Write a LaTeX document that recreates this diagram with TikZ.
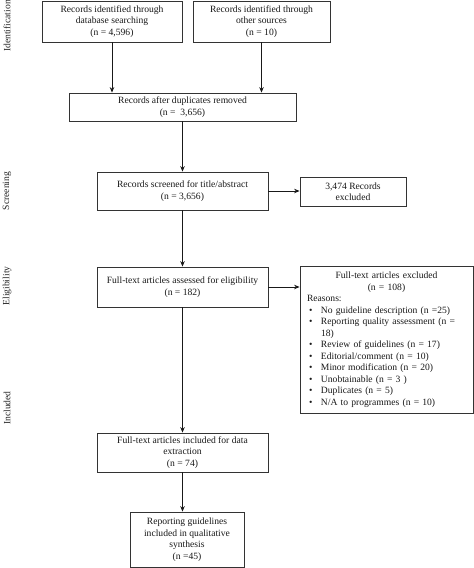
\documentclass[tikz,border=0pt]{standalone}
\usepackage{fontspec}
\setmainfont{Liberation Serif}
\usetikzlibrary{arrows.meta}
\newcommand{\bul}{\makebox[14pt][l]{\hspace*{2pt}•}}
\begin{document}
\begin{tikzpicture}[x=1pt,y=-1pt,
  font=\fontsize{9.6}{11.5}\selectfont,
  box/.style={draw=black!80, line width=0.8pt, inner sep=0pt, align=center, text=black!90},
  side/.style={rotate=90, inner sep=0pt, text=black!85},
  arr/.style={draw=black!90, line width=0.8pt, -{Stealth[length=5.5pt,width=4.5pt]}}]
\useasboundingbox (0,0) rectangle (474,568);
\fill[white] (0,0) rectangle (474,568);

\node[box, minimum width=140pt, minimum height=41pt] (db) at (112,21.5)
  {Records identified through\\database searching\\(n = 4,596)};
\node[box, minimum width=137pt, minimum height=41pt] (os) at (261.5,21.5)
  {Records identified through\\other sources\\(n = 10)};
\node[box, minimum width=227pt, minimum height=28pt] (dup) at (182.5,107)
  {Records after duplicates removed\\(n =\ \ 3,656)};
\node[box, minimum width=171pt, minimum height=38pt] (scr) at (182.5,191)
  {Records screened for title/abstract\\(n = 3,656)};
\node[box, minimum width=106pt, minimum height=29pt] (ex1) at (353,191.5)
  {3,474 Records\\excluded};
\node[box, minimum width=171pt, minimum height=40pt] (elig) at (182.5,287)
  {Full-text articles assessed for eligibility\\(n = 182)};
\node[box, minimum width=173pt, minimum height=147pt, text width=159pt,
  inner xsep=7pt, align=left] (ex2) at (386.5,339.5)
  {\centering Full-text articles excluded\\(n = 108)\par
   \raggedright Reasons:\\
   \bul No guideline description (n =25)\\
   \bul Reporting quality assessment (n =\\
   \hspace*{14pt}18)\\
   \bul Review of guidelines (n = 17)\\
   \bul Editorial/comment (n = 10)\\
   \bul Minor modification (n = 20)\\
   \bul Unobtainable (n = 3 )\\
   \bul Duplicates (n = 5)\\
   \bul N/A to programmes (n = 10)};
\node[box, minimum width=171pt, minimum height=39pt] (inc) at (182.5,452.5)
  {Full-text articles included for data\\extraction\\(n = 74)};
\node[box, minimum width=114pt, minimum height=55pt] (syn) at (187,539.5)
  {Reporting guidelines\\included in qualitative\\synthesis\\(n =45)};

\node[side] (lid) at (7,26) {Identification};
\node[side] (lscr) at (7,191) {Screening};
\node[side] (lel) at (7,286) {Eligibility};
\node[side] (lin) at (7,408) {Included};

\draw[arr] (db.south) -- (db.south |- dup.north);
\draw[arr] (os.south) -- (os.south |- dup.north);
\draw[arr] (dup.south -| scr.north) -- (scr.north);
\draw[arr] (scr.south) -- (elig.north);
\draw[arr] (scr.east) -- (ex1.west |- scr.east);
\draw[arr] (elig.east) -- (ex2.west |- elig.east);
\draw[arr] (elig.south) -- (inc.north);
\draw[arr] (inc.south) -- (inc.south |- syn.north);
\end{tikzpicture}
\end{document}
